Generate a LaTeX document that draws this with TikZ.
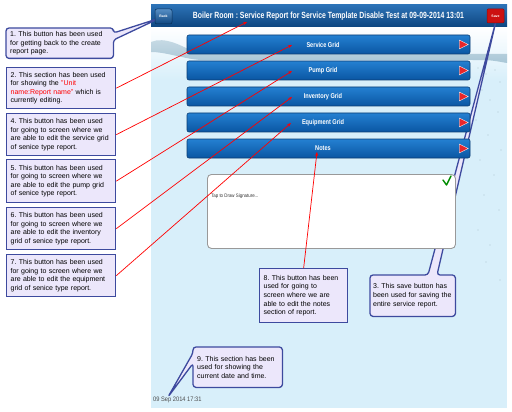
\documentclass[tikz,border=0pt]{standalone}
\usepackage{fontspec}
\setmainfont{Liberation Sans}
\usetikzlibrary{arrows.meta,calc}
\definecolor{cfill}{HTML}{ECE7FB}
\definecolor{cdraw}{HTML}{3D4A9E}
\definecolor{scrblue}{HTML}{D8EFFA}
\definecolor{hdrtop}{HTML}{2C72B6}
\definecolor{hdrbot}{HTML}{0E4680}
\definecolor{btntop}{HTML}{2480D2}
\definecolor{btnbot}{HTML}{0A56A2}
\definecolor{btnborder}{HTML}{0B3D73}
\definecolor{wavecol}{HTML}{A8C6D6}
\definecolor{savered}{HTML}{CC1111}
\definecolor{trired}{HTML}{E8262A}
\pgfdeclarelayer{scr}
\pgfdeclarelayer{shapes}
\pgfsetlayers{scr,shapes,main}
\frenchspacing
\begin{document}
\begin{tikzpicture}[x=1pt,y=-1pt,
  ctext/.style={font=\fontsize{7}{8.6}\selectfont, align=left, inner xsep=4pt, inner ysep=2pt, anchor=north west, text=black},
  cbox/.style={ctext, draw=cdraw, line width=1.3pt, fill=cfill},
  wedgebox/.style={draw=cdraw, line width=1.3pt, fill=cfill, rounded corners=3pt, line join=round},
  redline/.style={draw=red, line width=0.7pt, -{Stealth[length=4pt,width=3pt]}},
  btn/.style={draw=btnborder, line width=0.6pt, rounded corners=2pt, top color=btntop, bottom color=btnbot, minimum width=283pt, minimum height=19pt, inner sep=0pt},
  btnlabel/.style={font=\bfseries\fontsize{7}{7}\selectfont, text=white, inner sep=0pt}
]
\useasboundingbox (0,0) rectangle (512,412);

% ---------- screen ----------
\begin{pgfonlayer}{scr}
\fill[scrblue] (151,5) rectangle (507,408);
\shade[top color=white, bottom color=scrblue] (151,27) rectangle (507,80);
% water wave band
\shade[top color=wavecol!60!white, bottom color=wavecol] (151,42) .. controls (165,36) and (182,46) .. (196,53) -- (507,54) -- (507,63) .. controls (490,60) .. (470,60) -- (200,60) .. controls (180,58) and (166,52) .. (151,52) -- cycle;
% droplets
\foreach \p in {(478,68),(486,74),(495,70),(500,82),(482,90),(490,100),(498,112),(476,120),(488,135),(501,150),(480,160),(494,175),(484,195),(499,210),(478,230),(490,245),(486,262),(500,280)}
  \fill[wavecol!80!black, opacity=0.5] \p circle (0.7pt);
% header
\shade[top color=hdrtop, bottom color=hdrbot] (151,5) rectangle (507,27);
\end{pgfonlayer}

\node[font=\fontsize{9}{9}\selectfont\bfseries, text=white, inner sep=0pt] (title) at (328.5,16) {\resizebox{271pt}{\height}{Boiler Room : Service Report for Service Template Disable Test at 09-09-2014 13:01}};
\node[draw=hdrbot!70!black, line width=0.5pt, rounded corners=2pt, top color=hdrtop!80!white, bottom color=hdrbot, minimum width=17pt, minimum height=15pt, inner sep=0pt, font=\bfseries\fontsize{3.5}{3.5}\selectfont, text=white] (back) at (163.5,16.5) {Back};
\node[draw=savered!70!black, line width=0.5pt, rounded corners=1pt, fill=savered, minimum width=17pt, minimum height=14pt, inner sep=0pt, font=\bfseries\fontsize{3.5}{3.5}\selectfont, text=white] (save) at (495.5,16) {Save};

% ---------- buttons ----------
\foreach \n/\y/\t in {b1/44.5/Service Grid, b2/70.5/Pump Grid, b3/96.5/Inventory Grid, b4/122.5/Equipment Grid, b5/148.5/Notes}{
  \node[btn] (\n) at (328.5,\y) {};
  \node[btnlabel] (\n l) at (323,\y) {\scalebox{0.8}[1]{\t}};
  \fill[trired, draw=white, line width=0.3pt] ($(\n.east)+(-11,-4.5)$) -- ++(9,4.5) -- ++(-9,4.5) -- cycle;
}

% ---------- signature box ----------
\node[draw=gray!80, line width=0.9pt, rounded corners=4pt, fill=white, minimum width=248pt, minimum height=74pt, anchor=north west, inner sep=0pt] (sig) at (207,174) {};
\node[font=\fontsize{5}{5}\selectfont, text=black!80, anchor=west, inner sep=0pt] (sigt) at (211,196) {\scalebox{0.88}[1]{Tap to Draw Signature...}};
\draw[green!55!black, line width=1.4pt, line cap=round, line join=round] (443,180) -- (446.5,185) -- (451,176);

% ---------- date ----------
\node[font=\fontsize{6.5}{6.5}\selectfont, text=black!70, anchor=west, inner sep=0pt] (date) at (153,400) {\scalebox{0.88}[1]{09 Sep 2014 17:31}};

% ---------- rectangular callouts ----------
\node[cbox, minimum width=109pt, minimum height=41pt, text width=101pt] (c2) at (6,67)
  {2. This section has been used\\for showing the \textcolor{red}{"Unit}\\\textcolor{red}{name:Report name"} which is\\currently editing.};
\node[cbox, minimum width=109pt, minimum height=42pt, text width=101pt] (c4) at (6,113)
  {4. This button has been used\\for going to screen where we\\are able to edit the service grid\\of senice type report.};
\node[cbox, minimum width=109pt, minimum height=43pt, text width=101pt] (c5) at (6,159)
  {5. This button has been used\\for going to screen where we\\are able to edit the pump grid\\of senice type report.};
\node[cbox, minimum width=109pt, minimum height=42pt, text width=101pt] (c6) at (6,207)
  {6. This button has been used\\for going to screen where we\\are able to edit the inventory\\grid of senice type report.};
\node[cbox, minimum width=109pt, minimum height=42pt, text width=101pt] (c7) at (6,254)
  {7. This button has been used\\for going to screen where we\\are able to edit the equipment\\grid of senice type report.};
\node[cbox, minimum width=88pt, minimum height=54pt, text width=80pt] (c8) at (259,268)
  {8. This button has been\\used for going to\\screen where we are\\able to edit the notes\\section of report.};

% ---------- wedge callouts (text) ----------
\node[ctext, minimum width=107pt, minimum height=30pt, text width=99pt] (c1) at (6,28)
  {1. This button has been used\\for getting back to the create\\report page.};
\node[ctext, inner xsep=3pt, minimum width=85pt, minimum height=41pt, text width=79pt] (c3) at (370,275)
  {3. This save button has\\been used for saving the\\entire service report.};
\node[ctext, minimum width=89pt, minimum height=40pt, text width=81pt] (c9) at (193,347)
  {9. This section has been\\used for showing the\\current date and time.};

\coordinate (tip1) at (160,18);
\coordinate (tip3) at (496,21);
\coordinate (tip9) at (168,397);

\begin{pgfonlayer}{shapes}
\path[wedgebox] (c1.north west) -- (c1.north east) -- ($(c1.north east)+(0,5)$) -- (tip1) -- ($(c1.north east)+(0,12)$) -- (c1.south east) -- (c1.south west) -- cycle;
\path[wedgebox] (c3.north west) -- ($(c3.north west)+(58,0)$) -- (tip3) -- ($(c3.north west)+(67,0)$) -- (c3.north east) -- (c3.south east) -- (c3.south west) -- cycle;
\path[wedgebox] (c9.north west) -- (c9.north east) -- (c9.south east) -- (c9.south west) -- ($(c9.south west)+(0,-24)$) -- (tip9) -- ($(c9.north west)+(0,6)$) -- cycle;
\end{pgfonlayer}

% ---------- red connectors ----------
\coordinate (a2) at (247,22);
\coordinate (a4) at (292,45);
\coordinate (a5) at (292,71);
\coordinate (a6) at (292,97);
\coordinate (a7) at (291,123);
\coordinate (a8) at (317,152);
\draw[redline] (c2.east) -- (a2);
\draw[redline] (c4.east) -- (a4);
\draw[redline] (c5.east) -- (a5);
\draw[redline] (c6.east) -- (a6);
\draw[redline] (c7.east) -- (a7);
\draw[redline] (c8.north) -- (a8);
\end{tikzpicture}
\end{document}
